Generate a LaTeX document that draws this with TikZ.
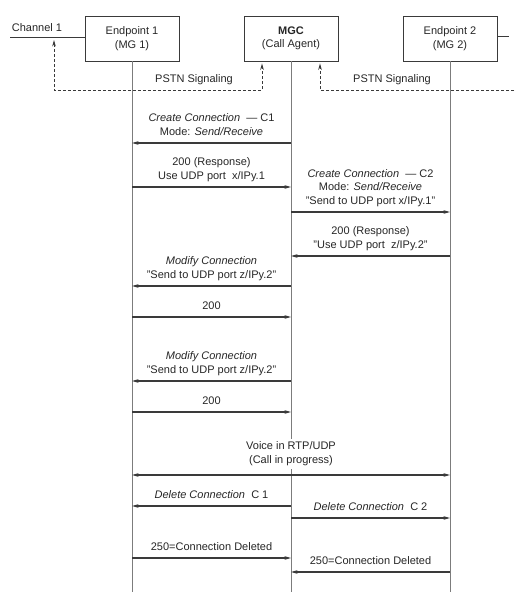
\documentclass[tikz,border=0pt]{standalone}
\usepackage{fontspec}
\setmainfont{Liberation Sans}
\usetikzlibrary{arrows.meta}
\definecolor{linegray}{HTML}{7C7C7C}
\definecolor{arrowgray}{HTML}{3A3A3A}
\definecolor{textgray}{HTML}{262626}

\tikzset{
    entity/.style={draw=arrowgray, line width=0.9pt, minimum width=94pt, minimum height=45pt, align=center, inner sep=0pt},
    lifeline/.style={draw=linegray, line width=1pt},
    msg/.style={draw=arrowgray, line width=1.3pt, ->},
    pstn/.style={draw=arrowgray, line width=0.8pt, densely dashed},
    lbl/.style={align=center, inner sep=0pt, text depth=3pt, above=4pt}
}

\begin{document}
\begin{tikzpicture}[x=1pt, y=-1pt, text=textgray, font=\fontsize{11}{13.5}\selectfont,
    >={Stealth[length=6.5pt, width=3.6pt]}]
    \useasboundingbox (0,0) rectangle (514,596);

    \node[entity] (ep1) at (132,38.5) {Endpoint 1\\(MG 1)};
    \node[entity] (mgc) at (291,38.5) {\textbf{MGC}\\(Call Agent)};
    \node[entity] (ep2) at (450,38.5) {Endpoint 2\\(MG 2)};

    \coordinate (ep1end) at (ep1 |- 0,592);
    \coordinate (mgcend) at (mgc |- 0,592);
    \coordinate (ep2end) at (ep2 |- 0,592);
    \draw[lifeline] (ep1) -- (ep1end);
    \draw[lifeline] (mgc) -- (mgcend);
    \draw[lifeline] (ep2) -- (ep2end);

    \coordinate (ch1) at (10,37);
    \coordinate (ch2) at (509,36);
    \draw[arrowgray, line width=0.9pt] (ch1) -- (ep1.west |- ch1);
    \draw[arrowgray, line width=0.9pt] (ep2.east |- ch2) -- (ch2);
    \node (chlabel) at (37,27.5) {Channel 1};

    \coordinate (p1) at (54,90);
    \coordinate (p2) at (262,90);
    \coordinate (p3) at (320,90);
    \coordinate (p4) at (514,90);
    \draw[pstn, <->, shorten <=3pt, shorten >=2pt] (p1 |- ch1) -- (p1) -- (p2) -- (mgc.south -| p2);
    \draw[pstn, ->, shorten >=2pt] (p4) -- (p3) -- (mgc.south -| p3);
    \node (pstn1) at (194,79.5) {PSTN Signaling};
    \node (pstn2) at (392,79.5) {PSTN Signaling};

    \draw[msg] (mgc |- 0,143) -- node[lbl] {\textit{Create Connection}\ \ --- C1\\Mode: \textit{Send/Receive}} (ep1 |- 0,143);
    \draw[msg] (ep1 |- 0,187) -- node[lbl] {200 (Response)\\Use UDP port\ \ x/IPy.1} (mgc |- 0,187);
    \draw[msg] (mgc |- 0,212) -- node[lbl] {\textit{Create Connection}\ \ --- C2\\Mode: \textit{Send/Receive}\\"Send to UDP port x/IPy.1"} (ep2 |- 0,212);
    \draw[msg] (ep2 |- 0,256) -- node[lbl] {200 (Response)\\"Use UDP port\ \ z/IPy.2"} (mgc |- 0,256);
    \draw[msg] (mgc |- 0,286) -- node[lbl] {\textit{Modify Connection}\\"Send to UDP port z/IPy.2"} (ep1 |- 0,286);
    \draw[msg] (ep1 |- 0,317) -- node[lbl] {200} (mgc |- 0,317);
    \draw[msg] (mgc |- 0,381) -- node[lbl] {\textit{Modify Connection}\\"Send to UDP port z/IPy.2"} (ep1 |- 0,381);
    \draw[msg] (ep1 |- 0,412) -- node[lbl] {200} (mgc |- 0,412);
    \draw[msg, <->] (ep1 |- 0,475) -- node[lbl, fill=white, inner ysep=3pt, above=1pt] {Voice in RTP/UDP\\(Call in progress)} (ep2 |- 0,475);
    \draw[msg] (mgc |- 0,506) -- node[lbl] {\textit{Delete Connection}\ \ C 1} (ep1 |- 0,506);
    \draw[msg] (mgc |- 0,518) -- node[lbl] {\textit{Delete Connection}\ \ C 2} (ep2 |- 0,518);
    \draw[msg] (ep1 |- 0,558) -- node[lbl] {250=Connection Deleted} (mgc |- 0,558);
    \draw[msg] (ep2 |- 0,572) -- node[lbl] {250=Connection Deleted} (mgc |- 0,572);
\end{tikzpicture}
\end{document}
